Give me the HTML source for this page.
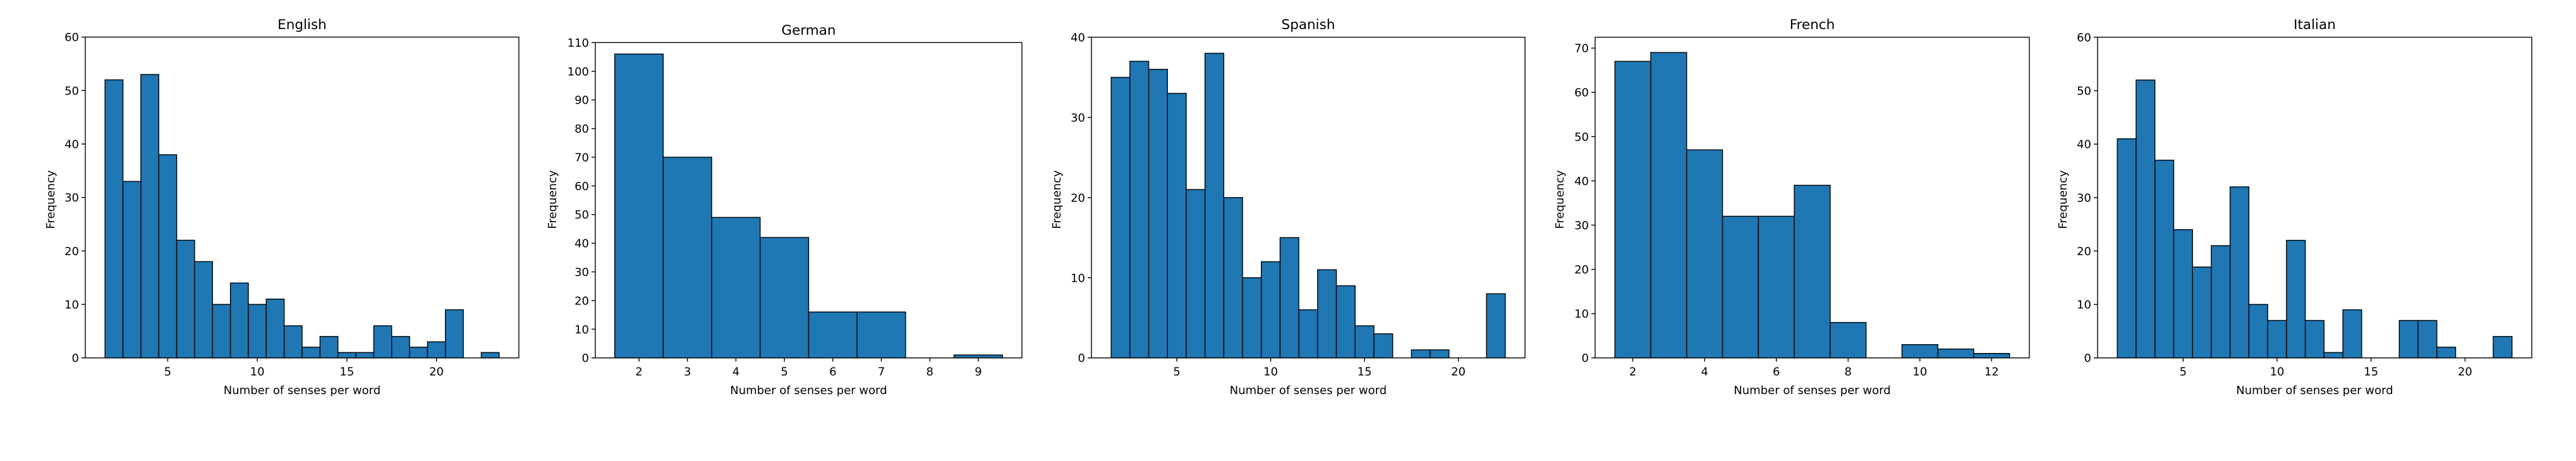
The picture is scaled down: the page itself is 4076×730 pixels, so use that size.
<!DOCTYPE html>
<html><head><meta charset="utf-8"><style>
html,body{margin:0;padding:0;background:#fff;}
svg{display:block;}
text{font-family:"DejaVu Sans","Liberation Sans",sans-serif;fill:#000;}
</style></head><body>
<svg id="s" width="4076" height="730" xmlns="http://www.w3.org/2000/svg"></svg>
<script>
const charts=[
 {t:"English",L:135,R:821,T:58.7,x0:0.4,x1:24.6,ym:60,yt:[0,10,20,30,40,50,60],xt:[5,10,15,20],ty:46,yl:80,
  d:[52,33,53,38,22,18,10,14,10,11,6,2,4,1,1,6,4,2,3,9,0,1]},
 {t:"German",L:942,R:1617,T:67.4,x0:1.1,x1:9.9,ym:110,yt:[0,10,20,30,40,50,60,70,80,90,100,110],xt:[2,3,4,5,6,7,8,9],ty:55,yl:874,
  d:[106,70,49,42,16,16,0,1]},
 {t:"Spanish",L:1727,R:2413,T:59,x0:0.45,x1:23.55,ym:40,yt:[0,10,20,30,40],xt:[5,10,15,20],ty:46,yl:1672,
  d:[35,37,36,33,21,38,20,10,12,15,6,11,9,4,3,0,1,1,0,0,8]},
 {t:"French",L:2524,R:3211,T:59,x0:0.95,x1:13.05,ym:72.45,yt:[0,10,20,30,40,50,60,70],xt:[2,4,6,8,10,12],ty:46,yl:2468,
  d:[67,69,47,32,32,39,8,0,3,2,1]},
 {t:"Italian",L:3319,R:4006,T:59,x0:0.45,x1:23.55,ym:60,yt:[0,10,20,30,40,50,60],xt:[5,10,15,20],ty:46,yl:3264,
  d:[41,52,37,24,17,21,32,10,7,22,7,1,9,0,0,7,7,2,0,0,4]}
];
const B=566.7;let h="";
for(const c of charts){
 const X=v=>c.L+(v-c.x0)/(c.x1-c.x0)*(c.R-c.L);
 const Y=v=>B-v/c.ym*(B-c.T);
 c.d.forEach((v,i)=>{if(v>0){const a=X(1.5+i),b=X(2.5+i);
  h+=`<rect x="${a}" y="${Y(v)}" width="${b-a}" height="${B-Y(v)}" fill="#1f77b4" stroke="#000" stroke-width="1.4"/>`;}});
 h+=`<rect x="${c.L}" y="${c.T}" width="${c.R-c.L}" height="${B-c.T}" fill="none" stroke="#000" stroke-width="1.4"/>`;
 for(const v of c.yt){const y=Y(v);h+=`<line x1="${c.L-6}" x2="${c.L}" y1="${y}" y2="${y}" stroke="#000" stroke-width="1.4"/><text x="${c.L-10}" y="${y+6.5}" font-size="18" text-anchor="end">${v}</text>`;}
 for(const v of c.xt){const x=X(v);h+=`<line x1="${x}" x2="${x}" y1="${B}" y2="${B+6}" stroke="#000" stroke-width="1.4"/><text x="${x}" y="${B+28}" font-size="18" text-anchor="middle">${v}</text>`;}
 const cx=(c.L+c.R)/2;
 h+=`<text x="${cx}" y="${c.ty}" font-size="21.5" text-anchor="middle">${c.t}</text>`;
 h+=`<text x="${cx}" y="624" font-size="18" text-anchor="middle">Number of senses per word</text>`;
 h+=`<text transform="translate(${c.yl+6},316) rotate(-90)" font-size="18" text-anchor="middle">Frequency</text>`;
}
document.getElementById("s").innerHTML=h;
</script>
</body></html>
